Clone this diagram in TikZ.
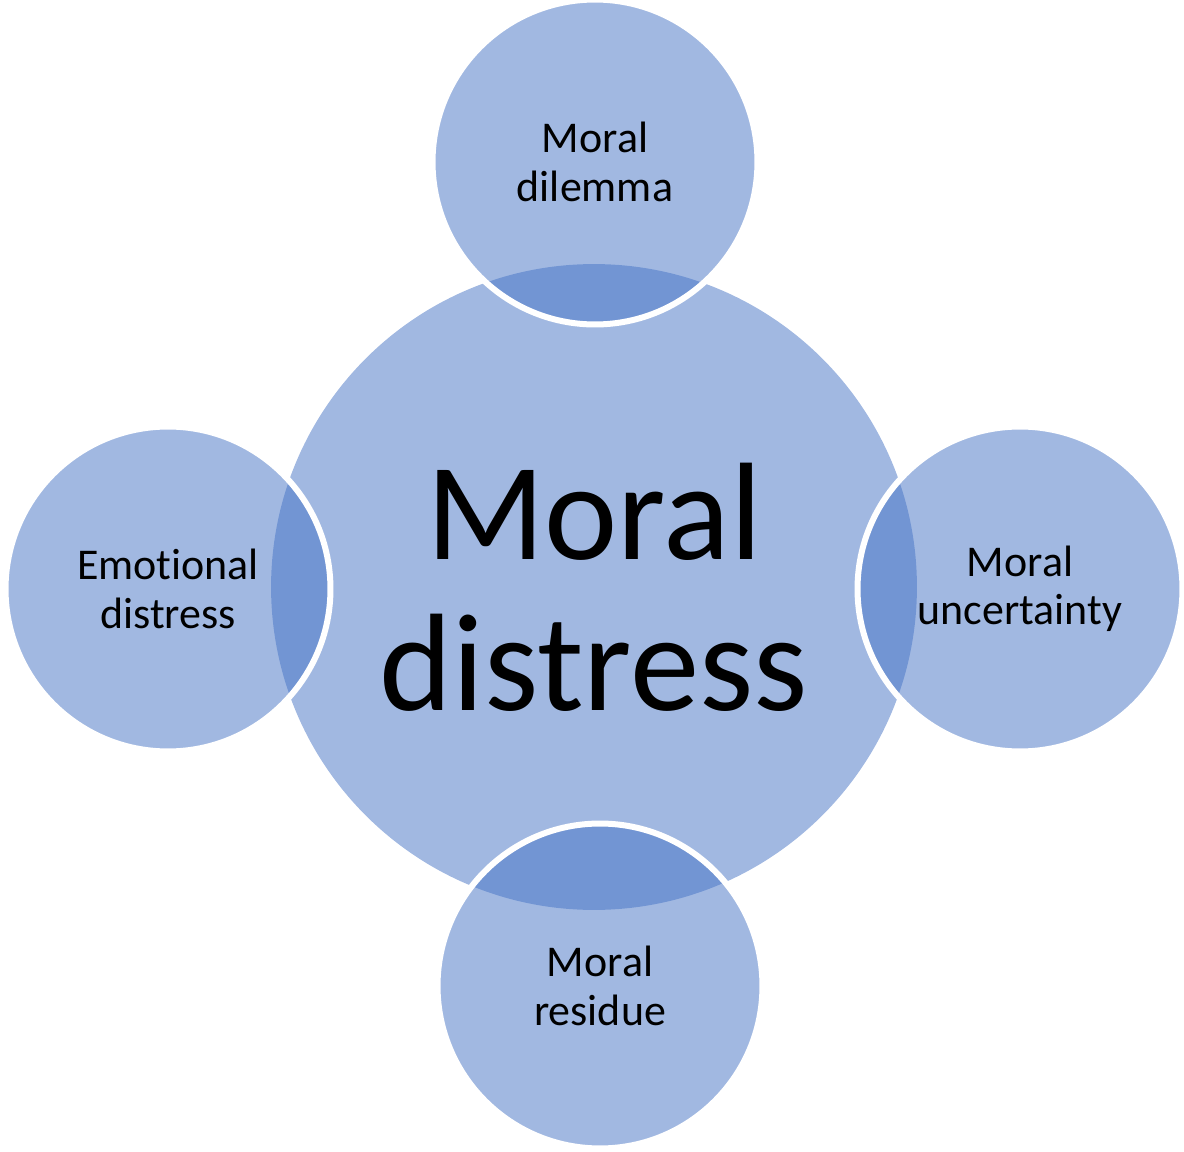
\documentclass[tikz,border=0pt]{standalone}
\usepackage{fontspec}
\setmainfont{Carlito}[Ligatures=NoCommon]
\usepackage{tikz}
\definecolor{venn}{HTML}{4472C4}
\tikzset{
    hub/.style={circle, fill=venn, fill opacity=0.5, text opacity=1, inner sep=0pt,
        minimum size=12.92cm, align=center, font=\fontsize{79}{86}\selectfont},
    spoke/.style={circle, fill=venn, fill opacity=0.5, text opacity=1, draw=white,
        draw opacity=1, line width=0.12cm, inner sep=0pt, minimum size=6.5cm,
        align=center, font=\fontsize{25}{27.5}\selectfont}
}
\begin{document}
\begin{tikzpicture}[x=0.02cm, y=-0.02cm]
    \useasboundingbox (0,0) rectangle (1184,1152);
    % Nodes
    \node[hub] (distress) at (594,587) {Moral\\distress};
    \node[spoke] (dilemma) at (595,162) {Moral\\dilemma};
    \node[spoke] (emotional) at (168,589) {Emotional\\distress};
    \node[spoke] (uncertainty) at (1020,589) {Moral\\uncertainty};
    \node[spoke] (residue) at (600,986) {Moral\\residue};
\end{tikzpicture}
\end{document}
